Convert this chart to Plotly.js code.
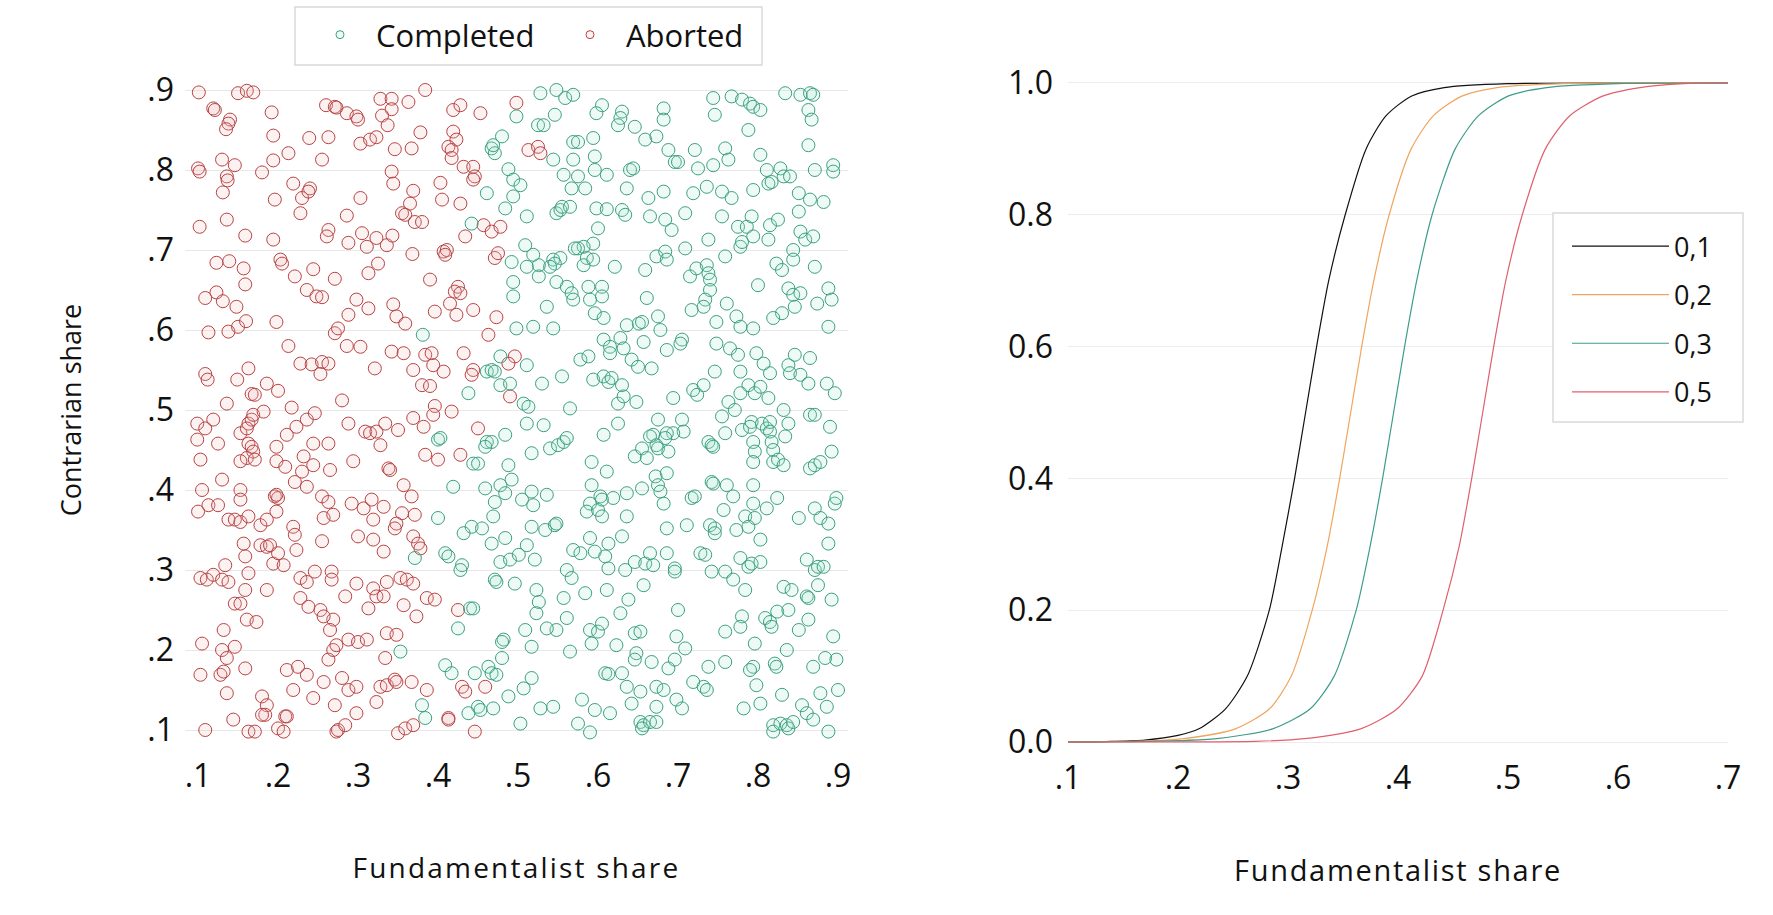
<!DOCTYPE html>
<html>
<head>
<meta charset="utf-8">
<script src="https://cdn.plot.ly/plotly-3.0.1.min.js"></script>
<style>
  html, body { margin: 0; padding: 0; background: #fff; }
  #chart { width: 1773px; height: 915px; }
  /* wider tracking on the horizontal axis titles */
  #chart .xtitle { letter-spacing: 2.2px; }
  #chart .x2title { letter-spacing: 1.7px; }
</style>
</head>
<body>
<div id="chart"></div>
<script>
// Simulation outcomes: [fundamentalist share, contrarian share]
const abortedPts = [
[.101,.897],[.119,.877],[.121,.875],[.150,.896],[.161,.899],[.169,.897],[.140,.863],[.138,.858],[.135,.851],[.192,.872],
[.194,.843],[.260,.881],[.271,.879],[.273,.878],[.286,.871],[.298,.867],[.300,.863],[.328,.889],[.342,.889],[.342,.876],
[.330,.868],[.337,.856],[.363,.885],[.384,.900],[.239,.840],[.263,.841],[.303,.833],[.315,.838],[.323,.841],[.346,.826],
[.367,.827],[.378,.847],[.100,.802],[.102,.798],[.130,.813],[.146,.806],[.136,.792],[.137,.787],[.131,.772],[.180,.797],
[.194,.812],[.213,.821],[.196,.763],[.255,.813],[.219,.783],[.230,.765],[.240,.777],[.238,.773],[.228,.746],[.303,.765],
[.286,.743],[.342,.798],[.344,.783],[.369,.774],[.365,.758],[.355,.746],[.359,.744],[.371,.735],[.380,.735],[.403,.784],
[.405,.763],[.102,.729],[.136,.738],[.159,.718],[.194,.713],[.203,.688],[.205,.683],[.263,.725],[.261,.717],[.288,.709],
[.305,.721],[.311,.704],[.323,.715],[.336,.706],[.343,.718],[.368,.695],[.123,.684],[.139,.686],[.157,.677],[.159,.657],
[.221,.667],[.244,.676],[.271,.664],[.313,.671],[.325,.683],[.390,.663],[.109,.640],[.123,.647],[.131,.636],[.148,.629],
[.236,.650],[.248,.642],[.255,.641],[.298,.638],[.313,.627],[.344,.632],[.348,.617],[.359,.608],[.288,.619],[.396,.623],
[.113,.597],[.138,.598],[.150,.604],[.160,.611],[.198,.610],[.271,.596],[.275,.602],[.213,.580],[.286,.580],[.303,.579],
[.342,.573],[.357,.571],[.384,.569],[.392,.571],[.394,.556],[.228,.558],[.242,.557],[.255,.560],[.263,.558],[.253,.545],
[.321,.552],[.369,.550],[.109,.545],[.112,.538],[.149,.538],[.163,.552],[.167,.520],[.171,.519],[.186,.533],[.200,.524],
[.136,.508],[.217,.503],[.280,.512],[.380,.531],[.390,.530],[.396,.505],
[.419,.875],[.428,.881],[.453,.871],[.498,.884],[.419,.848],[.423,.838],[.413,.829],[.417,.825],[.417,.815],[.432,.804],
[.444,.804],[.446,.792],[.444,.788],[.428,.758],[.434,.717],[.457,.731],[.467,.723],[.478,.729],[.407,.698],[.411,.700],
[.409,.694],[.471,.690],[.475,.696],[.425,.654],[.421,.648],[.428,.646],[.415,.633],[.423,.619],[.444,.625],[.473,.616],
[.463,.594],[.432,.571],[.407,.548],[.444,.550],[.442,.544],[.496,.567],[.488,.558],[.490,.517],[.513,.825],[.525,.829],
[.528,.821],
[.099,.483],[.109,.477],[.119,.488],[.099,.463],[.125,.458],[.103,.438],[.153,.471],[.163,.483],[.167,.488],[.161,.477],
[.169,.494],[.182,.498],[.163,.458],[.167,.454],[.169,.448],[.161,.440],[.153,.436],[.171,.438],[.198,.454],[.198,.436],
[.209,.429],[.211,.469],[.223,.479],[.236,.488],[.246,.496],[.232,.442],[.230,.423],[.244,.431],[.244,.458],[.263,.458],
[.265,.425],[.288,.483],[.309,.473],[.315,.471],[.323,.473],[.334,.483],[.350,.475],[.328,.456],[.369,.490],[.382,.479],
[.394,.494],[.384,.444],[.400,.438],[.294,.436],[.338,.427],[.340,.425],[.105,.400],[.130,.413],[.153,.400],[.153,.388],
[.113,.381],[.125,.381],[.100,.373],[.138,.363],[.146,.363],[.153,.360],[.163,.367],[.178,.356],[.186,.363],[.198,.373],
[.196,.392],[.200,.390],[.198,.394],[.221,.410],[.236,.404],[.255,.392],[.257,.365],[.263,.385],[.269,.369],[.292,.383],
[.307,.377],[.317,.388],[.332,.379],[.319,.363],[.357,.406],[.367,.392],[.371,.369],[.355,.371],[.348,.358],[.346,.352],
[.219,.354],[.221,.344],[.223,.325],[.255,.336],[.157,.333],[.159,.317],[.178,.331],[.186,.329],[.190,.331],[.194,.308],
[.207,.306],[.200,.321],[.300,.342],[.319,.338],[.332,.323],[.369,.342],[.375,.333],[.378,.327],[.103,.290],[.111,.288],
[.119,.294],[.130,.288],[.138,.285],[.134,.306],[.163,.296],[.159,.275],[.186,.275],[.146,.258],[.153,.258],[.161,.238],
[.173,.235],[.132,.225],[.228,.290],[.236,.285],[.246,.298],[.267,.298],[.267,.288],[.228,.265],[.238,.254],[.253,.250],
[.269,.238],[.265,.225],[.257,.242],[.284,.267],[.298,.283],[.319,.277],[.323,.267],[.332,.267],[.336,.285],[.313,.252],
[.353,.290],[.361,.288],[.369,.283],[.357,.256],[.373,.242],[.386,.265],[.396,.263],[.105,.208],[.130,.200],[.136,.190],
[.146,.204],[.103,.169],[.128,.169],[.132,.173],[.136,.146],[.159,.177],[.180,.142],[.186,.131],[.184,.119],[.211,.175],
[.225,.179],[.236,.169],[.209,.117],[.219,.150],[.244,.140],[.257,.160],[.263,.188],[.269,.200],[.273,.206],[.288,.213],
[.300,.210],[.311,.213],[.336,.221],[.348,.219],[.334,.190],[.280,.165],[.288,.150],[.298,.154],[.271,.131],[.298,.121],
[.328,.154],[.323,.135],[.336,.156],[.346,.163],[.348,.160],[.367,.160],[.386,.150],[.109,.100],[.144,.113],[.163,.098],
[.171,.098],[.180,.119],[.200,.102],[.207,.098],[.211,.117],[.273,.098],[.275,.100],[.284,.106],[.350,.096],[.359,.102],
[.369,.106],
[.417,.498],[.450,.477],[.428,.444],[.425,.250],[.459,.154],[.430,.154],[.434,.148],[.413,.115],[.413,.113],[.446,.098]
];

const completedPts = [
[.381,.594],
[.442,.733],[.461,.771],[.438,.521],[.528,.896],[.548,.900],[.559,.890],[.569,.894],[.498,.867],[.525,.856],[.532,.856],
[.546,.869],[.480,.842],[.467,.827],[.471,.821],[.469,.831],[.488,.801],[.494,.788],[.503,.781],[.494,.767],[.484,.752],
[.511,.742],[.544,.813],[.557,.794],[.569,.813],[.575,.792],[.584,.777],[.567,.777],[.569,.835],[.575,.835],[.594,.840],
[.596,.817],[.596,.800],[.611,.794],[.605,.881],[.598,.871],[.630,.873],[.628,.865],[.625,.856],[.646,.854],[.659,.838],
[.673,.842],[.682,.877],[.682,.863],[.688,.825],[.696,.810],[.700,.810],[.640,.800],[.644,.802],[.636,.777],[.548,.746],
[.553,.750],[.555,.754],[.565,.754],[.598,.752],[.611,.751],[.630,.750],[.634,.744],[.663,.765],[.682,.773],[.665,.742],
[.684,.738],[.692,.725],[.709,.746],[.721,.825],[.725,.802],[.744,.806],[.759,.827],[.763,.813],[.719,.771],[.736,.779],
[.755,.773],[.767,.765],[.744,.890],[.746,.869],[.767,.892],[.780,.888],[.790,.883],[.794,.879],[.803,.875],[.788,.850],
[.834,.896],[.853,.894],[.865,.896],[.869,.894],[.863,.875],[.867,.863],[.863,.831],[.803,.819],[.811,.800],[.813,.783],
[.817,.785],[.828,.802],[.832,.792],[.840,.792],[.794,.775],[.851,.771],[.865,.763],[.882,.760],[.871,.800],[.894,.806],
[.894,.798],[.755,.742],[.775,.729],[.786,.729],[.792,.742],[.794,.717],[.815,.731],[.813,.713],[.825,.738],[.778,.704],
[.780,.710],[.759,.692],[.851,.748],[.853,.723],[.859,.713],[.869,.717],[.844,.700],[.844,.688],[.823,.683],[.830,.675],
[.871,.679],[.738,.713],[.600,.727],[.594,.708],[.582,.704],[.575,.702],[.571,.702],[.586,.690],[.582,.681],[.594,.688],
[.544,.688],[.553,.690],[.546,.683],[.540,.679],[.526,.681],[.511,.679],[.492,.685],[.519,.694],[.509,.706],[.621,.679],
[.673,.692],[.684,.698],[.686,.688],[.709,.702],[.659,.675],[.723,.677],[.715,.667],[.736,.681],[.738,.671],[.740,.663],
[.740,.650],[.734,.638],[.732,.629],[.717,.625],[.494,.660],[.494,.642],[.526,.667],[.536,.629],[.548,.660],[.561,.654],
[.567,.646],[.569,.638],[.588,.654],[.590,.638],[.605,.654],[.605,.642],[.596,.621],[.607,.615],[.661,.640],[.800,.656],
[.761,.633],[.773,.617],[.778,.604],[.794,.602],[.748,.610],[.838,.652],[.844,.644],[.853,.646],[.846,.629],[.830,.621],
[.819,.615],[.888,.652],[.892,.638],[.874,.633],[.888,.604],[.636,.606],[.651,.608],[.655,.610],[.675,.617],[.678,.600],
[.498,.602],[.519,.604],[.544,.602],[.607,.588],[.615,.579],[.615,.571],[.628,.590],[.632,.577],[.657,.585],[.686,.575],
[.705,.588],[.703,.583],[.748,.583],[.765,.577],[.775,.569],[.798,.571],[.807,.558],[.815,.546],[.838,.556],[.846,.569],
[.865,.565],[.840,.546],[.853,.544],[.578,.563],[.588,.567],[.555,.542],[.530,.533],[.478,.567],[.461,.548],[.467,.550],
[.471,.548],[.478,.531],[.490,.533],[.511,.556],[.594,.538],[.607,.542],[.613,.535],[.617,.540],[.630,.531],[.642,.563],
[.650,.554],[.667,.552],[.694,.515],[.719,.525],[.724,.519],[.732,.531],[.746,.548],[.778,.548],[.788,.531],[.796,.521],
[.803,.529],[.813,.515],[.778,.521],[.763,.510],[.863,.533],[.886,.533],[.896,.521],[.625,.508],[.632,.517],[.648,.510],
[.565,.502],[.507,.508],[.513,.504],
[.400,.463],[.400,.365],[.371,.315],[.353,.198],[.380,.131],[.384,.115],
[.403,.465],[.625,.483],[.675,.488],[.705,.488],[.707,.473],[.694,.471],[.686,.471],[.669,.469],[.665,.467],[.755,.492],
[.771,.500],[.780,.475],[.792,.485],[.790,.479],[.805,.483],[.811,.477],[.815,.485],[.815,.473],[.832,.500],[.838,.483],
[.834,.467],[.865,.494],[.871,.494],[.890,.479],[.484,.469],[.511,.483],[.532,.481],[.444,.433],[.450,.433],[.461,.460],
[.467,.460],[.459,.454],[.517,.446],[.540,.452],[.550,.456],[.557,.460],[.561,.465],[.607,.469],[.592,.435],[.611,.423],
[.646,.442],[.655,.452],[.661,.440],[.673,.456],[.675,.452],[.684,.465],[.688,.448],[.738,.460],[.742,.456],[.744,.454],
[.759,.471],[.794,.460],[.796,.448],[.794,.435],[.817,.460],[.819,.450],[.819,.435],[.825,.438],[.832,.431],[.865,.427],
[.871,.431],[.878,.435],[.892,.448],[.488,.431],[.478,.406],[.484,.396],[.492,.413],[.471,.385],[.459,.402],[.419,.404],
[.505,.388],[.517,.398],[.519,.381],[.536,.394],[.592,.406],[.590,.383],[.586,.373],[.600,.375],[.603,.392],[.605,.367],
[.605,.388],[.619,.390],[.636,.396],[.636,.367],[.655,.402],[.672,.417],[.675,.406],[.678,.398],[.682,.383],[.686,.421],
[.717,.390],[.721,.392],[.742,.410],[.744,.408],[.761,.406],[.769,.392],[.757,.375],[.794,.406],[.794,.383],[.811,.377],
[.824,.390],[.871,.377],[.878,.365],[.896,.383],[.898,.390],[.888,.358],[.442,.354],[.432,.346],[.455,.352],[.469,.367],
[.517,.354],[.534,.350],[.546,.356],[.548,.358],[.630,.342],[.686,.352],[.711,.356],[.740,.356],[.746,.352],[.746,.346],
[.773,.350],[.784,.367],[.796,.365],[.788,.354],[.851,.365],[.888,.333],[.409,.321],[.413,.317],[.430,.306],[.428,.300],
[.467,.333],[.484,.340],[.478,.310],[.490,.313],[.501,.319],[.511,.331],[.521,.313],[.590,.340],[.569,.325],[.578,.321],
[.596,.323],[.609,.317],[.613,.333],[.613,.302],[.561,.300],[.567,.290],[.634,.300],[.646,.310],[.659,.308],[.665,.321],
[.669,.306],[.657,.281],[.686,.321],[.696,.302],[.696,.298],[.728,.321],[.734,.319],[.742,.298],[.759,.298],[.769,.288],
[.778,.315],[.788,.304],[.792,.308],[.803,.310],[.784,.275],[.803,.338],[.861,.313],[.871,.300],[.875,.304],[.882,.304],
[.875,.281],[.471,.288],[.473,.285],[.496,.283],[.523,.275],[.526,.260],[.523,.246],[.509,.225],[.440,.252],[.444,.252],
[.425,.227],[.557,.265],[.561,.240],[.548,.225],[.536,.227],[.517,.204],[.482,.213],[.480,.210],[.584,.271],[.611,.275],
[.628,.246],[.638,.263],[.590,.225],[.600,.223],[.592,.208],[.605,.233],[.623,.206],[.646,.221],[.653,.223],[.700,.250],
[.698,.217],[.709,.202],[.759,.223],[.780,.242],[.778,.229],[.796,.208],[.809,.240],[.815,.235],[.824,.248],[.838,.250],
[.817,.229],[.851,.225],[.863,.238],[.832,.279],[.842,.275],[.861,.267],[.863,.265],[.892,.263],[.894,.217],[.565,.198],
[.648,.196],[.646,.188],[.667,.185],[.688,.177],[.696,.188],[.738,.179],[.759,.185],[.794,.179],[.790,.175],[.798,.156],
[.821,.183],[.823,.179],[.836,.200],[.869,.179],[.884,.190],[.898,.188],[.409,.181],[.417,.171],[.446,.171],[.463,.179],
[.467,.171],[.473,.169],[.480,.190],[.517,.165],[.507,.152],[.488,.142],[.609,.171],[.613,.170],[.630,.171],[.636,.154],
[.653,.148],[.673,.154],[.682,.150],[.719,.160],[.732,.154],[.736,.150],[.830,.144],[.878,.146],[.900,.150],[.438,.121],
[.450,.129],[.453,.125],[.469,.127],[.528,.127],[.544,.129],[.580,.138],[.596,.125],[.615,.121],[.642,.133],[.673,.129],
[.698,.138],[.705,.127],[.782,.127],[.803,.133],[.855,.131],[.861,.121],[.886,.129],[.503,.108],[.575,.108],[.590,.097],
[.653,.110],[.657,.106],[.665,.110],[.673,.110],[.655,.102],[.819,.106],[.819,.098],[.828,.108],[.836,.106],[.838,.102],
[.844,.110],[.869,.113],[.888,.098]
];

const shareTicks = [0.1, 0.2, 0.3, 0.4, 0.5, 0.6, 0.7, 0.8, 0.9];
const shareTickText = ['.1', '.2', '.3', '.4', '.5', '.6', '.7', '.8', '.9'];
const fundTicks = [0.1, 0.2, 0.3, 0.4, 0.5, 0.6, 0.7];
const fundTickText = ['.1', '.2', '.3', '.4', '.5', '.6', '.7'];
const probTicks = [0, 0.2, 0.4, 0.6, 0.8, 1.0];
const probTickText = ['0.0', '0.2', '0.4', '0.6', '0.8', '1.0'];

// Completion probability against fundamentalist share, one curve per parameter value
const curveNames = ['0,1', '0,2', '0,3', '0,5'];
const curveX01 = [0.10, 0.14, 0.17, 0.20, 0.219, 0.243, 0.263, 0.283, 0.295, 0.306, 0.316, 0.326, 0.337, 0.352, 0.371, 0.389, 0.412, 0.442, 0.50, 0.60, 0.70];
const curveY01 = [0.000, 0.001, 0.003, 0.010, 0.020, 0.050, 0.100, 0.200, 0.300, 0.400, 0.500, 0.600, 0.700, 0.800, 0.900, 0.950, 0.980, 0.993, 0.999, 1.000, 1.000];
const curveX02 = [0.10, 0.15, 0.18, 0.205, 0.252, 0.283, 0.303, 0.322, 0.336, 0.347, 0.357, 0.367, 0.378, 0.392, 0.412, 0.432, 0.458, 0.490, 0.55, 0.70];
const curveY02 = [0.000, 0.001, 0.002, 0.005, 0.020, 0.050, 0.100, 0.200, 0.300, 0.400, 0.500, 0.600, 0.700, 0.800, 0.900, 0.950, 0.980, 0.993, 0.999, 1.000];
const curveX03 = [0.10, 0.16, 0.20, 0.235, 0.286, 0.320, 0.342, 0.362, 0.375, 0.386, 0.396, 0.406, 0.417, 0.431, 0.452, 0.473, 0.500, 0.535, 0.60, 0.70];
const curveY03 = [0.000, 0.0005, 0.002, 0.005, 0.020, 0.050, 0.100, 0.200, 0.300, 0.400, 0.500, 0.600, 0.700, 0.800, 0.900, 0.950, 0.980, 0.993, 0.999, 1.000];
const curveX05 = [0.10, 0.20, 0.27, 0.315, 0.366, 0.399, 0.422, 0.441, 0.456, 0.467, 0.477, 0.487, 0.498, 0.513, 0.534, 0.556, 0.586, 0.620, 0.66, 0.70];
const curveY05 = [0.000, 0.0002, 0.001, 0.005, 0.020, 0.050, 0.100, 0.200, 0.300, 0.400, 0.500, 0.600, 0.700, 0.800, 0.900, 0.950, 0.980, 0.993, 0.999, 1.000];
const curveColors = ['#111111', '#f0a55e', '#3f9c8a', '#e0606e'];

const FONT = 'Open Sans, DejaVu Sans, sans-serif';
const GREEN_LINE = '#3c9f80', GREEN_FILL = 'rgba(160,230,205,0.18)';
const RED_LINE = '#b84343', RED_FILL = 'rgba(240,185,185,0.18)';
const FRAME = '#d9d9d9';

const xs = pts => pts.map(p => p[0]);
const ys = pts => pts.map(p => p[1]);

const traces = [
  {
    type: 'scatter', mode: 'markers', x: xs(abortedPts), y: ys(abortedPts),
    xaxis: 'x', yaxis: 'y', showlegend: false, hoverinfo: 'skip',
    marker: { symbol: 'circle', size: 13, color: RED_FILL, line: { color: RED_LINE, width: 1 } }
  },
  {
    type: 'scatter', mode: 'markers', x: xs(completedPts), y: ys(completedPts),
    xaxis: 'x', yaxis: 'y', showlegend: false, hoverinfo: 'skip',
    marker: { symbol: 'circle', size: 13, color: GREEN_FILL, line: { color: GREEN_LINE, width: 1 } }
  },
  // legend keys for the scatter panel (small symbols)
  {
    type: 'scatter', mode: 'markers', name: 'Completed', x: [null], y: [null],
    xaxis: 'x', yaxis: 'y', legend: 'legend',
    marker: { symbol: 'circle', size: 8, color: GREEN_FILL, line: { color: GREEN_LINE, width: 1 } }
  },
  {
    type: 'scatter', mode: 'markers', name: 'Aborted', x: [null], y: [null],
    xaxis: 'x', yaxis: 'y', legend: 'legend',
    marker: { symbol: 'circle', size: 8, color: RED_FILL, line: { color: RED_LINE, width: 1 } }
  }
];

const curveXs = [curveX01, curveX02, curveX03, curveX05];
const curveYs = [curveY01, curveY02, curveY03, curveY05];
curveNames.forEach((name, i) => {
  traces.push({
    type: 'scatter', mode: 'lines', name: name,
    x: curveXs[i], y: curveYs[i], xaxis: 'x2', yaxis: 'y2',
    legend: 'legend2', legendgroup: 'g' + i,
    line: { color: curveColors[i], width: 1.2, shape: 'spline', smoothing: 0.7 },
    hoverinfo: 'skip'
  });
});

const layout = {
  width: 1773, height: 915,
  margin: { l: 185, r: 45, t: 70, b: 160, autoexpand: false },
  paper_bgcolor: '#ffffff', plot_bgcolor: '#ffffff',
  font: { family: FONT, size: 30, color: '#111111' },
  showlegend: true,
  xaxis: {
    domain: [0, 0.42968], range: [0.0837, 0.9125], anchor: 'y',
    tickmode: 'array', tickvals: shareTicks, ticktext: shareTickText,
    showgrid: false, zeroline: false, showline: false, ticks: '',
    tickfont: { size: 32, color: '#111111' }, ticklabelstandoff: 12,
    title: { text: 'Fundamentalist share', font: { size: 28, color: '#111111' }, standoff: 63 }
  },
  yaxis: {
    domain: [0.01898, 0.98832], range: [0.085, 0.915], anchor: 'x',
    tickmode: 'array', tickvals: shareTicks, ticktext: shareTickText,
    showgrid: true, gridcolor: '#e8e8e8', gridwidth: 1,
    zeroline: false, showline: false, ticks: '',
    tickfont: { size: 32, color: '#111111' }, ticklabelstandoff: 10,
    title: { text: 'Contrarian share', font: { size: 27, color: '#111111' }, standoff: 57 }
  },
  xaxis2: {
    domain: [0.57226, 1], range: [0.1, 0.7], anchor: 'y2',
    tickmode: 'array', tickvals: fundTicks, ticktext: fundTickText,
    showgrid: false, zeroline: false, showline: false, ticks: '',
    tickfont: { size: 32, color: '#111111' }, ticklabelstandoff: 7,
    title: { text: 'Fundamentalist share', font: { size: 29, color: '#111111' }, standoff: 64 }
  },
  yaxis2: {
    domain: [0.00934, 0.99066], range: [-0.01, 1.01], anchor: 'x2',
    tickmode: 'array', tickvals: probTicks, ticktext: probTickText,
    showgrid: true, gridcolor: '#ececec', gridwidth: 1,
    zeroline: false, showline: false, ticks: '',
    tickfont: { size: 32, color: '#111111' }, ticklabelstandoff: 14
  },
  legend: {
    xref: 'container', yref: 'container', x: 0.17146, y: 0.99126,
    xanchor: 'left', yanchor: 'top', orientation: 'h',
    bgcolor: 'rgba(0,0,0,0)', borderwidth: 0,
    itemwidth: 62, entrywidth: 173,
    font: { family: FONT, size: 31, color: '#111111' }
  },
  legend2: {
    xref: 'container', yref: 'container', x: 0.88381, y: 0.75738,
    xanchor: 'left', yanchor: 'top', orientation: 'v',
    bgcolor: 'rgba(0,0,0,0)', borderwidth: 0,
    tracegroupgap: 10.5, itemwidth: 97,
    font: { family: FONT, size: 27, color: '#111111' }
  },
  // frames behind the two legends
  shapes: [
    { type: 'rect', xref: 'paper', yref: 'paper', x0: 0.07129, x1: 0.37395, y0: 1.00730, y1: 1.09197,
      line: { color: FRAME, width: 1.5 }, fillcolor: '#ffffff', layer: 'above' },
    { type: 'rect', xref: 'paper', yref: 'paper', x0: 0.88659, x1: 1.00972, y0: 0.48613, y1: 0.79124,
      line: { color: FRAME, width: 1.5 }, fillcolor: '#ffffff', layer: 'above' }
  ]
};

Plotly.newPlot('chart', traces, layout, { staticPlot: true, displayModeBar: false });
</script>
</body>
</html>
